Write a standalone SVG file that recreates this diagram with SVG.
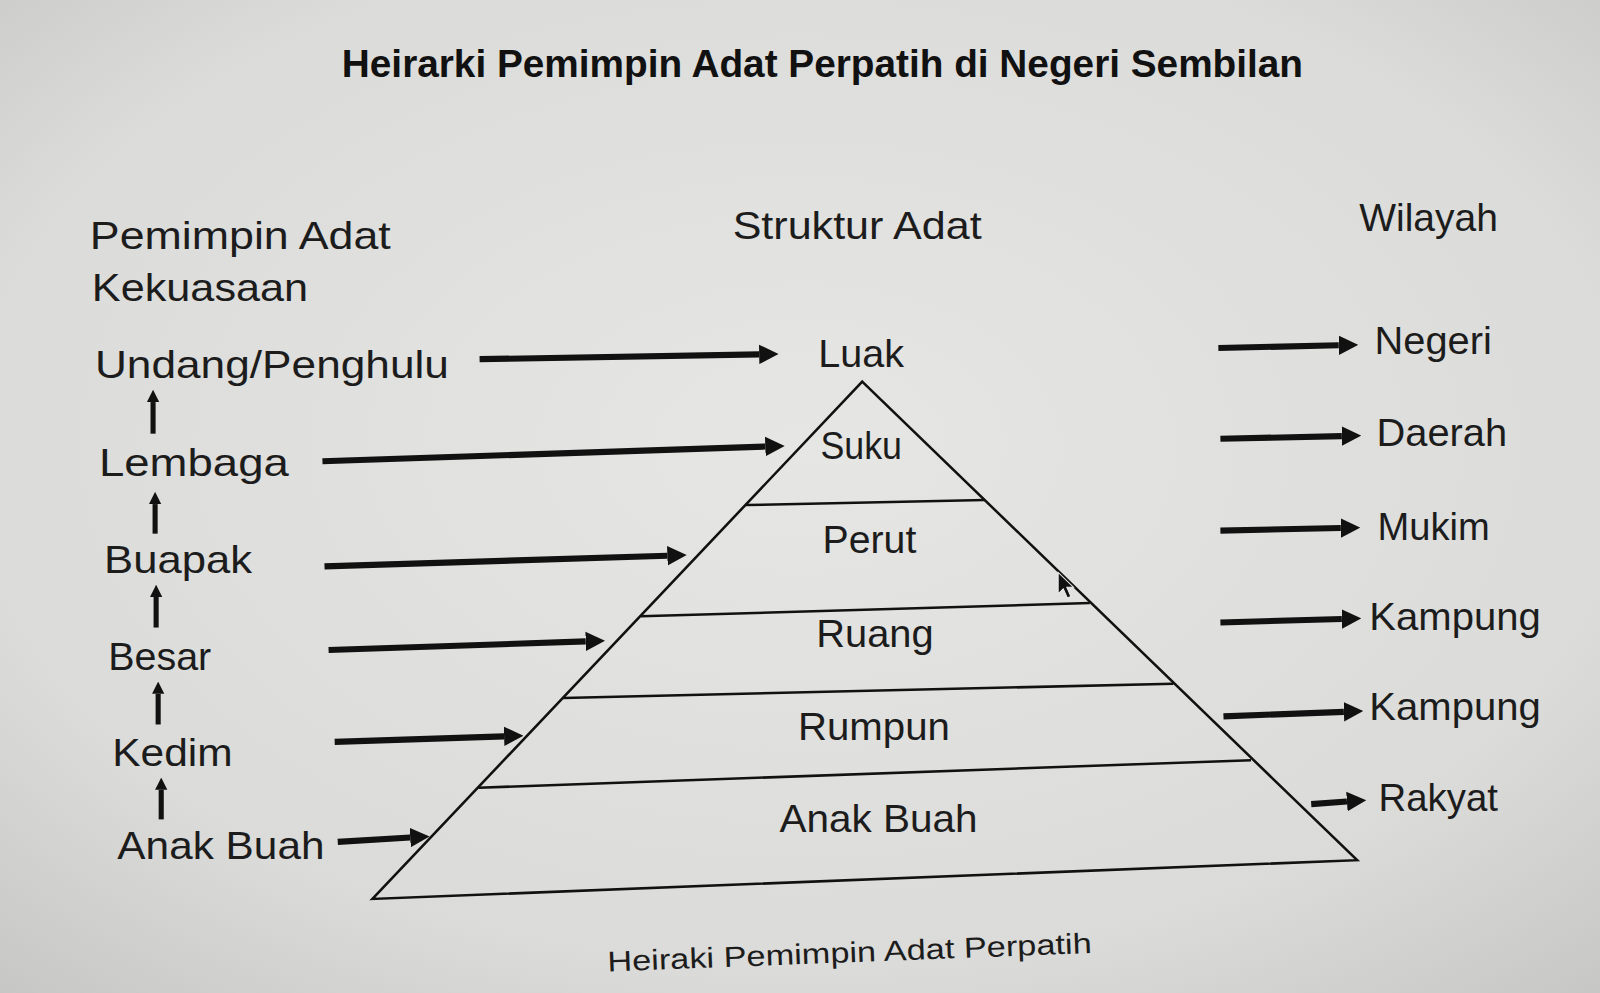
<svg xmlns="http://www.w3.org/2000/svg" width="1600" height="993" viewBox="0 0 1600 993">
<defs>
  <radialGradient id="bg" cx="50%" cy="45%" r="75%">
    <stop offset="0" stop-color="#e6e6e4"/>
    <stop offset="0.7" stop-color="#dbdbd9"/>
    <stop offset="1" stop-color="#c6c6c5"/>
  </radialGradient>
  <marker id="ah" viewBox="0 0 10 10" markerUnits="userSpaceOnUse" markerWidth="19" markerHeight="20" refX="0" refY="5" orient="auto">
    <path d="M0,0 L10,5 L0,10 z" fill="#111"/>
  </marker>
  <marker id="au" viewBox="0 0 10 10" markerUnits="userSpaceOnUse" markerWidth="12" markerHeight="13" refX="0" refY="5" orient="auto">
    <path d="M0,0 L10,5 L0,10 z" fill="#111"/>
  </marker>
</defs>
<style>
  .t{font-family:"Liberation Sans",Arial,sans-serif;font-size:38px;fill:#1c1c1c}
  .title{font-family:"Liberation Sans",Arial,sans-serif;font-size:38px;font-weight:bold;fill:#111}
  .cap{font-family:"Liberation Sans",Arial,sans-serif;font-size:28px;fill:#1c1c1c}
  .arr{stroke:#111;stroke-width:6;fill:none;marker-end:url(#ah)}
  .up{stroke:#111;stroke-width:5;fill:none;marker-end:url(#au)}
  .py{stroke:#111;stroke-width:2.5;fill:none;stroke-linejoin:miter}
</style>
<rect x="0" y="0" width="1600" height="993" fill="url(#bg)"/>
<g transform="scale(1.0204)">
  <g id="title">
    <text class="title" x="335" y="75" textLength="942" lengthAdjust="spacingAndGlyphs">Heirarki Pemimpin Adat Perpatih di Negeri Sembilan</text>
  </g>
  <g id="headers">
    <text class="t" x="88" y="244" textLength="295" lengthAdjust="spacingAndGlyphs">Pemimpin Adat</text>
    <text class="t" x="90" y="295" textLength="212" lengthAdjust="spacingAndGlyphs">Kekuasaan</text>
    <text class="t" x="718" y="234" textLength="244" lengthAdjust="spacingAndGlyphs">Struktur  Adat</text>
    <text class="t" x="1332" y="226" textLength="136" lengthAdjust="spacingAndGlyphs">Wilayah</text>
  </g>
  <g id="pyramid">
    <polygon class="py" points="845,374 1330,843 365,881"/>
    <line class="py" stroke-width="3" x1="731" y1="495" x2="965" y2="490"/>
    <line class="py" stroke-width="3" x1="628" y1="604" x2="1068" y2="591"/>
    <line class="py" stroke-width="3" x1="552" y1="684" x2="1150" y2="670"/>
    <line class="py" stroke-width="3" x1="469" y1="772" x2="1226" y2="745"/>
  </g>
  <g id="leaders">
    <text class="t" x="93" y="370" textLength="347" lengthAdjust="spacingAndGlyphs">Undang/Penghulu</text>
    <text class="t" x="97" y="466" textLength="186" lengthAdjust="spacingAndGlyphs">Lembaga</text>
    <text class="t" x="102" y="562" textLength="145" lengthAdjust="spacingAndGlyphs">Buapak</text>
    <text class="t" x="106" y="657" textLength="101" lengthAdjust="spacingAndGlyphs">Besar</text>
    <text class="t" x="110" y="751" textLength="118" lengthAdjust="spacingAndGlyphs">Kedim</text>
    <text class="t" x="115" y="842" textLength="203" lengthAdjust="spacingAndGlyphs">Anak Buah</text>
  </g>
  <g id="structure">
    <text class="t" x="802" y="360" textLength="84" lengthAdjust="spacingAndGlyphs">Luak</text>
    <text class="t" x="804" y="450" textLength="80" lengthAdjust="spacingAndGlyphs">Suku</text>
    <text class="t" x="806" y="542" textLength="92" lengthAdjust="spacingAndGlyphs">Perut</text>
    <text class="t" x="800" y="634" textLength="115" lengthAdjust="spacingAndGlyphs">Ruang</text>
    <text class="t" x="782" y="725" textLength="149" lengthAdjust="spacingAndGlyphs">Rumpun</text>
    <text class="t" x="764" y="815" textLength="194" lengthAdjust="spacingAndGlyphs">Anak Buah</text>
  </g>
  <g id="regions">
    <text class="t" x="1347" y="347" textLength="115" lengthAdjust="spacingAndGlyphs">Negeri</text>
    <text class="t" x="1349" y="437" textLength="128" lengthAdjust="spacingAndGlyphs">Daerah</text>
    <text class="t" x="1350" y="529" textLength="110" lengthAdjust="spacingAndGlyphs">Mukim</text>
    <text class="t" x="1342" y="617" textLength="168" lengthAdjust="spacingAndGlyphs">Kampung</text>
    <text class="t" x="1342" y="706" textLength="168" lengthAdjust="spacingAndGlyphs">Kampung</text>
    <text class="t" x="1351" y="795" textLength="117" lengthAdjust="spacingAndGlyphs">Rakyat</text>
  </g>
  <g id="connectors">
    <path class="arr" d="M470,352 L744,347.3"/>
    <path class="arr" d="M316,452 L750,437.6"/>
    <path class="arr" d="M318,555 L654,544.6"/>
    <path class="arr" d="M322,637 L574,628.6"/>
    <path class="arr" d="M328,727 L494,721.6"/>
    <path class="arr" d="M331,825 L402,820.8"/>
    <path class="arr" d="M1194,341 L1312,338.4"/>
    <path class="arr" d="M1196,430 L1315,427.4"/>
    <path class="arr" d="M1196,520 L1314,517.4"/>
    <path class="arr" d="M1196,610 L1315,606.6"/>
    <path class="arr" d="M1199,702 L1317,697.6"/>
    <path class="arr" d="M1285,788 L1320,785.5"/>
    <path class="up" d="M150,425 L150,394"/>
    <path class="up" d="M152,523 L152,494"/>
    <path class="up" d="M153,615 L153,585"/>
    <path class="up" d="M155,710 L155,680"/>
    <path class="up" d="M158,803 L158,774"/>
  </g>
  <g id="cursor">
    <path d="M1037,561 L1037,582 L1042,577 L1046,586 L1049.5,584.5 L1045.5,575.5 L1052,575.5 Z" fill="#111" stroke="#eee" stroke-width="1"/>
  </g>
  <g id="caption">
    <text class="cap" x="595" y="943" textLength="475" lengthAdjust="spacingAndGlyphs" transform="rotate(-2.2 832 934)">Heiraki Pemimpin Adat Perpatih</text>
  </g>
</g>
</svg>
